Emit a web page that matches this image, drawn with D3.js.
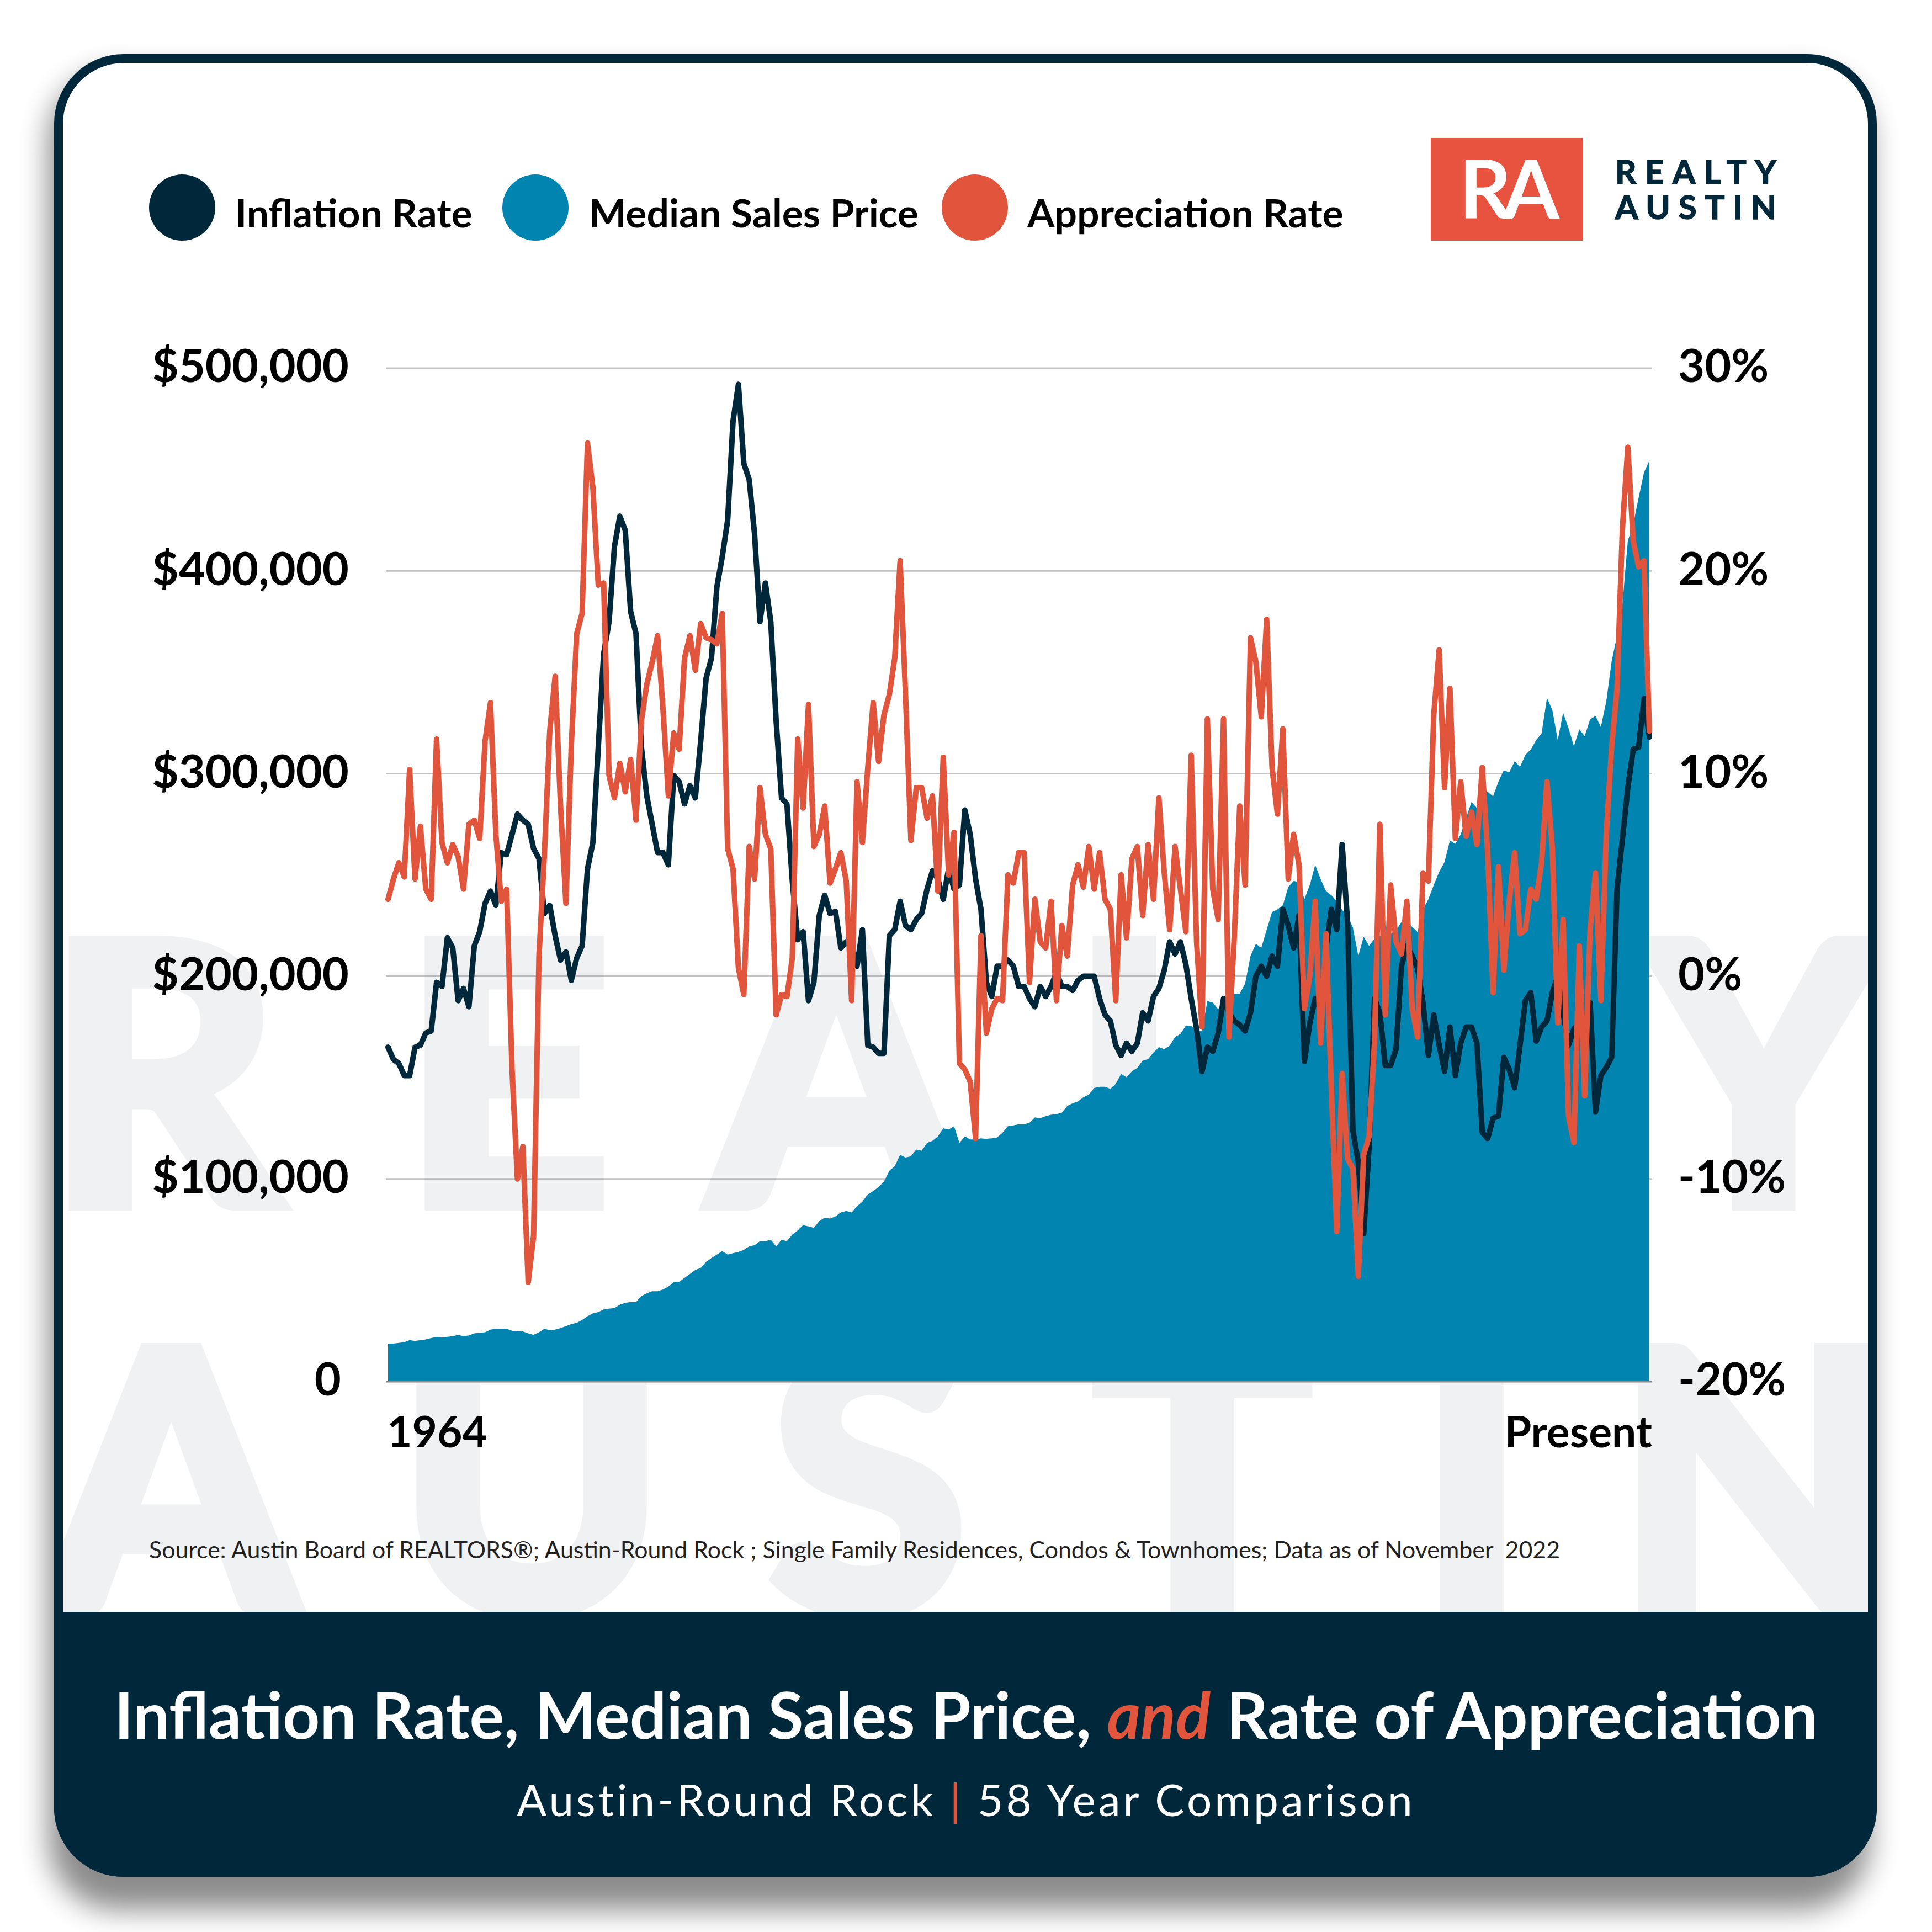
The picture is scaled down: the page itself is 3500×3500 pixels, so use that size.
<!DOCTYPE html>
<html>
<head>
<meta charset="utf-8">
<script src="https://cdn.jsdelivr.net/npm/d3@7"></script>
<style>
body { margin: 0; background: #fff; }
text { font-family: Lato, sans-serif; }
</style>
</head>
<body>
<div id="chart"></div>
<script>
// quarterly readings, 1964 to 2022
const medianPrice = [
  18.8,18.8,19.1,19.5,20.5,20.1,20.5,20.8,21.5,22.1,
  21.8,22.1,22.4,23.1,22.4,22.8,23.8,24.1,24.4,25.7,
  26.1,26.1,26.1,25.1,24.8,24.8,23.8,23.1,24.4,26.1,
  25.4,25.7,26.4,27.4,28.4,29,30.4,32.3,33.7,34.3,
  35.6,36,36.3,38,38.9,39.3,39.3,42.2,43.6,44.6,
  44.6,45.5,46.9,49.2,49.2,51.2,53.1,55.1,56.1,59.1,
  61,62.7,64.4,62.7,63.4,64,65,66.7,67.3,69.3,
  69.3,70,66.7,70,69.3,72.6,74.6,77.2,76.6,75.9,
  79.2,80.9,80.5,81.5,83.5,84.2,83.5,86.5,88.8,92.4,
  94,96,98.7,104,106.3,111.9,110.6,111.2,114.5,113.9,
  117.8,118.8,121,125,124.4,126,117.8,121,119.5,119.5,
  120,119.8,120,120.5,122.8,126,126.4,127,127,127.7,
  130.4,130,131,131.7,132,132.7,136,137.3,138.3,140.3,
  141.6,144.9,145.5,145.5,144.5,146.9,151.8,150.2,153.1,154.8,
  158.4,159.1,162.4,165,164,165.7,170,171.6,175.6,175.6,
  172.9,173.3,187.8,187,183.8,187,191,191.4,191.4,196.4,
  210,216,214,223,231.7,233,235,244,247,246.5,
  238,245,255,248,242,240,237,232.7,230,224,
  210,219.5,215,218.5,220,220,220.8,222.8,226.7,226.7,
  224.4,221.8,233,238,245,251.5,256.4,267,265.3,270,
  278,286,283,289.4,291,288.8,296,301.6,300.6,306,
  303.3,309.2,311.9,316.5,319.8,337.3,331.3,316.5,330,322.4,
  313.5,321.8,318.5,326.7,328.4,323,335.6,355.4,368,383.5,
  414.8,423,436,448.5,454.4
].map(d => d * 1000);

const inflationRate = [
  -3.5,-4.1,-4.3,-4.9,-4.9,-3.5,-3.4,-2.8,-2.7,-0.3,
  -0.5,1.9,1.4,-1.2,-0.6,-1.5,1.5,2.2,3.6,4.2,
  3.5,6.1,6.0,7.0,8.0,7.7,7.5,6.3,5.8,3.1,
  3.5,2.0,0.8,1.2,-0.2,0.9,1.5,5.3,6.6,11.3,
  15.9,17.5,21.2,22.7,22.0,18.0,16.9,11.3,8.9,7.5,
  6.1,6.1,5.5,9.9,9.6,8.5,9.4,8.8,11.6,14.7,
  15.7,19.2,20.7,22.5,27.4,29.2,25.3,24.5,21.8,17.5,
  19.4,17.5,12.6,8.8,8.5,4.7,1.8,2.2,-1.2,-0.3,
  3.0,4.0,3.1,3.2,1.4,1.7,1.5,0.5,2.3,-3.4,
  -3.5,-3.8,-3.8,2.0,2.3,3.7,2.5,2.3,2.8,3.1,
  4.3,5.2,4.8,3.8,5.3,4.3,4.5,8.2,7.0,4.8,
  3.3,-0.3,-1.0,0.5,0.5,0.8,0.5,-0.5,-0.5,-1.1,
  -1.5,-0.5,-1.0,-0.5,0.2,-0.5,-0.5,-0.7,-0.2,0,
  0,0,-1.1,-1.9,-2.2,-3.4,-3.9,-3.3,-3.7,-3.3,
  -1.8,-2.2,-1.0,-0.6,0.3,1.7,1.1,1.7,0.6,-1.1,
  -2.6,-4.7,-3.5,-3.7,-2.8,-1.1,-1.8,-2.2,-2.4,-2.7,
  -1.8,0,0.5,0,1.0,0.5,3.3,2.5,1.4,3.0,
  -4.2,-2.3,-1.1,-1.6,1.4,3.3,2.3,6.5,2.7,-7.6,
  -9.2,-12.7,-8.4,-1.1,-1.8,-4.4,-4.4,-3.6,0.5,1.5,
  1.0,0.4,-1.3,-3.9,-1.9,-3.4,-4.7,-2.5,-4.9,-3.3,
  -2.5,-2.5,-3.3,-7.7,-8.0,-7.0,-6.9,-4.0,-4.6,-5.5,
  -3.4,-1.2,-0.8,-3.2,-2.5,-2.2,-0.8,0,-1.8,-3.4,
  -2.6,-2.3,-2.3,-1.3,-6.7,-4.9,-4.5,-4.0,4.3,6.8,
  9.3,11.2,11.3,13.7,11.8
];

const appreciationRate = [
  3.8,4.8,5.6,4.9,10.2,4.8,7.4,4.3,3.8,11.7,
  6.6,5.6,6.5,5.9,4.3,7.5,7.7,6.8,11.6,13.5,
  7.0,3.7,4.3,-4.6,-10.0,-8.4,-15.1,-12.8,1.0,6.0,
  12.1,14.8,8.4,3.6,11.4,16.9,17.9,26.3,24.1,19.3,
  19.4,9.9,8.8,10.5,9.1,10.7,7.7,12.6,14.4,15.5,
  16.8,13.2,8.9,12.0,11.2,15.7,16.8,15.1,17.4,16.7,
  16.6,16.4,17.9,6.3,5.3,0.4,-0.9,6.4,4.8,9.3,
  7.0,6.3,-1.9,-0.9,-1.0,0.9,11.7,8.3,13.4,6.4,
  7.0,8.4,4.6,5.3,6.1,4.7,-1.2,9.6,6.6,10.3,
  13.5,10.6,12.9,13.9,15.7,20.5,13.9,6.7,9.3,9.3,
  7.8,8.9,4.2,10.8,5.0,7.1,-4.3,-4.6,-5.2,-8.0,
  2.0,-2.8,-1.6,-1.1,-1.2,5.0,4.6,6.1,6.1,-0.3,
  3.8,1.7,1.4,3.7,-1.2,2.5,1.0,4.5,5.5,4.4,
  6.4,4.3,6.1,3.8,3.3,-1.2,5.0,1.9,5.8,6.4,
  3.0,6.5,3.8,8.8,5.1,2.3,6.4,4.3,2.2,10.9,
  1.7,-2.5,12.7,4.3,2.8,12.7,-3.0,2.0,8.4,4.5,
  16.7,15.5,12.8,17.6,10.3,8.0,12.2,4.8,7.0,5.5,
  -1.6,0,3.7,-3.3,2.1,-5.6,-12.6,-4.8,-9.0,-9.5,
  -14.8,-8.8,-7.9,-3.3,7.5,-1.9,4.5,1.7,1.1,3.7,
  -1.6,-3.0,5.1,4.7,12.9,16.1,9.3,14.2,6.8,9.6,
  6.9,8.1,6.5,10.3,6.1,-0.8,5.4,0.3,3.7,6.1,
  2.1,2.3,4.3,3.8,5.6,9.6,6.3,-2.3,2.8,-6.9,
  -8.2,1.5,-5.9,2.3,5.1,-1.2,7.0,11.3,14.2,22.1,
  26.1,21.5,20.2,20.5,12.1
];

const priceTicks = [0, 100000, 200000, 300000, 400000, 500000];
const rateTicks = [-20, -10, 0, 10, 20, 30];
const timeLabels = ["1964", "Present"];
const legendNames = ["Inflation Rate", "Median Sales Price", "Appreciation Rate"];

const navy = "#01273b", blue = "#0284b1", orange = "#e2553d";

const svg = d3.select("#chart").append("svg")
    .attr("width", 3500).attr("height", 3500);

const defs = svg.append("defs");
defs.append("filter").attr("id", "shadow")
    .attr("x", "-5%").attr("y", "-5%").attr("width", "110%").attr("height", "110%")
  .append("feGaussianBlur").attr("stdDeviation", 26);
defs.append("clipPath").attr("id", "cardClip")
  .append("rect").attr("x", 98).attr("y", 98).attr("width", 3302).attr("height", 3302).attr("rx", 125);
defs.append("clipPath").attr("id", "paperClip")
  .append("rect").attr("x", 114).attr("y", 114).attr("width", 3270).attr("height", 2806);

// card with the soft shadow down and to the left
svg.append("rect")
    .attr("x", 88).attr("y", 130).attr("width", 3300).attr("height", 3330).attr("rx", 125)
    .attr("fill", "#000").attr("opacity", 0.45).attr("filter", "url(#shadow)");
svg.append("rect")
    .attr("x", 106).attr("y", 106).attr("width", 3286).attr("height", 3286).attr("rx", 118)
    .attr("fill", "#fff").attr("stroke", navy).attr("stroke-width", 16);

// watermark behind the plot
const mark = svg.append("g").attr("clip-path", "url(#paperClip)")
    .attr("fill", "#f0f1f3").attr("stroke", "#f0f1f3").attr("stroke-width", 28)
    .attr("font-weight", 700).attr("font-size", 650).attr("text-anchor", "middle");
[["R", 295], ["E", 918], ["A", 1515], ["L", 2110], ["T", 2650], ["Y", 3195]].forEach(d => {
    mark.append("text").attr("x", d[1]).attr("y", 2179).text(d[0]);
});
[["A", 310], ["U", 963], ["S", 1573], ["T", 2178], ["I", 2666], ["N", 3180]].forEach(d => {
    mark.append("text").attr("x", d[1]).attr("y", 2917).text(d[0]);
});

// scales
const x = d3.scaleLinear().domain([0, medianPrice.length - 1]).range([703, 2988]);
const yPrice = d3.scaleLinear().domain([0, 500000]).range([2503, 667]);
const yRate = d3.scaleLinear().domain([-20, 30]).range([2503, 667]);

// gridlines
svg.append("g")
    .selectAll("line")
    .data(priceTicks)
    .join("line")
    .attr("x1", 699).attr("x2", 2993)
    .attr("y1", d => yPrice(d)).attr("y2", d => yPrice(d))
    .attr("stroke", d => d === 0 ? "#8a8a8a" : "#000")
    .attr("stroke-opacity", d => d === 0 ? 1 : 0.23)
    .attr("stroke-width", 3);

// median price area
svg.append("path")
    .datum(medianPrice)
    .attr("fill", blue)
    .attr("d", d3.area().x((d, i) => x(i)).y0(yPrice(0) - 1).y1(d => yPrice(d)));

const drawRate = (values, color) => {
    svg.append("path")
        .datum(values)
        .attr("fill", "none")
        .attr("stroke", color).attr("stroke-width", 10)
        .attr("stroke-linejoin", "round").attr("stroke-linecap", "round")
        .attr("d", d3.line().x((d, i) => x(i)).y(d => yRate(d)));
};
drawRate(inflationRate, navy);
drawRate(appreciationRate, orange);

// axes, text only (gridlines are drawn above)
const leftAxis = svg.append("g")
    .attr("transform", "translate(632,0)")
    .call(d3.axisLeft(yPrice).tickValues(priceTicks).tickSize(0).tickPadding(0)
        .tickFormat(d => d === 0 ? "0" : d3.format("$,")(d)));
const rightAxis = svg.append("g")
    .attr("transform", "translate(3040,0)")
    .call(d3.axisRight(yRate).tickValues(rateTicks).tickSize(0).tickPadding(0)
        .tickFormat(d => d + "%"));
[leftAxis, rightAxis].forEach(a => {
    a.select(".domain").remove();
    a.selectAll("text")
        .attr("font-family", "Lato").attr("font-size", 83).attr("font-weight", 700)
        .attr("fill", "#000").attr("dy", "0.3em");
});
leftAxis.selectAll("text").filter(d => d === 0).attr("x", -14);

svg.selectAll(".timeLabel")
    .data(timeLabels)
    .join("text")
    .attr("class", "timeLabel")
    .attr("x", (d, i) => i === 0 ? 701 : 2993)
    .attr("y", 2622)
    .attr("text-anchor", (d, i) => i === 0 ? "start" : "end")
    .attr("font-size", 78.5).attr("font-weight", 700)
    .text(d => d);

// legend
const legendColors = [navy, blue, orange];
const legendCx = [330, 970, 1766];
const legendTx = [426, 1067, 1861];
legendNames.forEach((name, i) => {
    svg.append("circle").attr("cx", legendCx[i]).attr("cy", 376).attr("r", 60).attr("fill", legendColors[i]);
    svg.append("text").attr("x", legendTx[i]).attr("y", 412)
        .attr("font-size", 71.4).attr("font-weight", 700).attr("fill", "#000").text(name);
});

// logo
svg.append("rect").attr("x", 2592).attr("y", 250).attr("width", 276).attr("height", 186).attr("fill", "#e8533f");
svg.append("text").attr("x", 2726).attr("y", 396).attr("text-anchor", "middle")
    .attr("font-size", 148).attr("font-weight", 700).attr("letter-spacing", -16).attr("fill", "#fff").text("RA");
[["REALTY", 333], ["AUSTIN", 397]].forEach(d => {
    svg.append("text").attr("x", 2926).attr("y", d[1]).attr("font-size", 60).attr("font-weight", 700)
        .attr("fill", navy).attr("stroke", navy).attr("stroke-width", 1.5)
        .attr("textLength", 292).attr("lengthAdjust", "spacing").text(d[0]);
});

// source
svg.append("text").attr("x", 270).attr("y", 2823)
    .attr("font-family", "Open Sans").attr("font-size", 42).attr("fill", "#222")
    .attr("textLength", 2556).attr("lengthAdjust", "spacingAndGlyphs")
    .style("white-space", "pre")
    .text("Source: Austin Board of REALTORS®; Austin-Round Rock ; Single Family Residences, Condos & Townhomes; Data as of November  2022");

// banner
svg.append("rect").attr("x", 98).attr("y", 2920).attr("width", 3302).attr("height", 480)
    .attr("fill", navy).attr("clip-path", "url(#cardClip)");

const title = svg.append("text").attr("x", 1750).attr("y", 3150).attr("text-anchor", "middle")
    .attr("font-size", 117.3).attr("font-weight", 700).attr("fill", "#fff");
title.append("tspan").text("Inflation Rate, Median Sales Price, ");
title.append("tspan").attr("fill", orange).attr("font-style", "italic").text("and");
title.append("tspan").text(" Rate of Appreciation");

const subtitle = svg.append("text").attr("x", 1750).attr("y", 3290).attr("text-anchor", "middle")
    .attr("font-size", 80).attr("letter-spacing", 5).attr("fill", "#fff");
subtitle.append("tspan").text("Austin-Round Rock ");
subtitle.append("tspan").attr("fill", orange).text("|");
subtitle.append("tspan").text(" 58 Year Comparison");
</script>
</body>
</html>
